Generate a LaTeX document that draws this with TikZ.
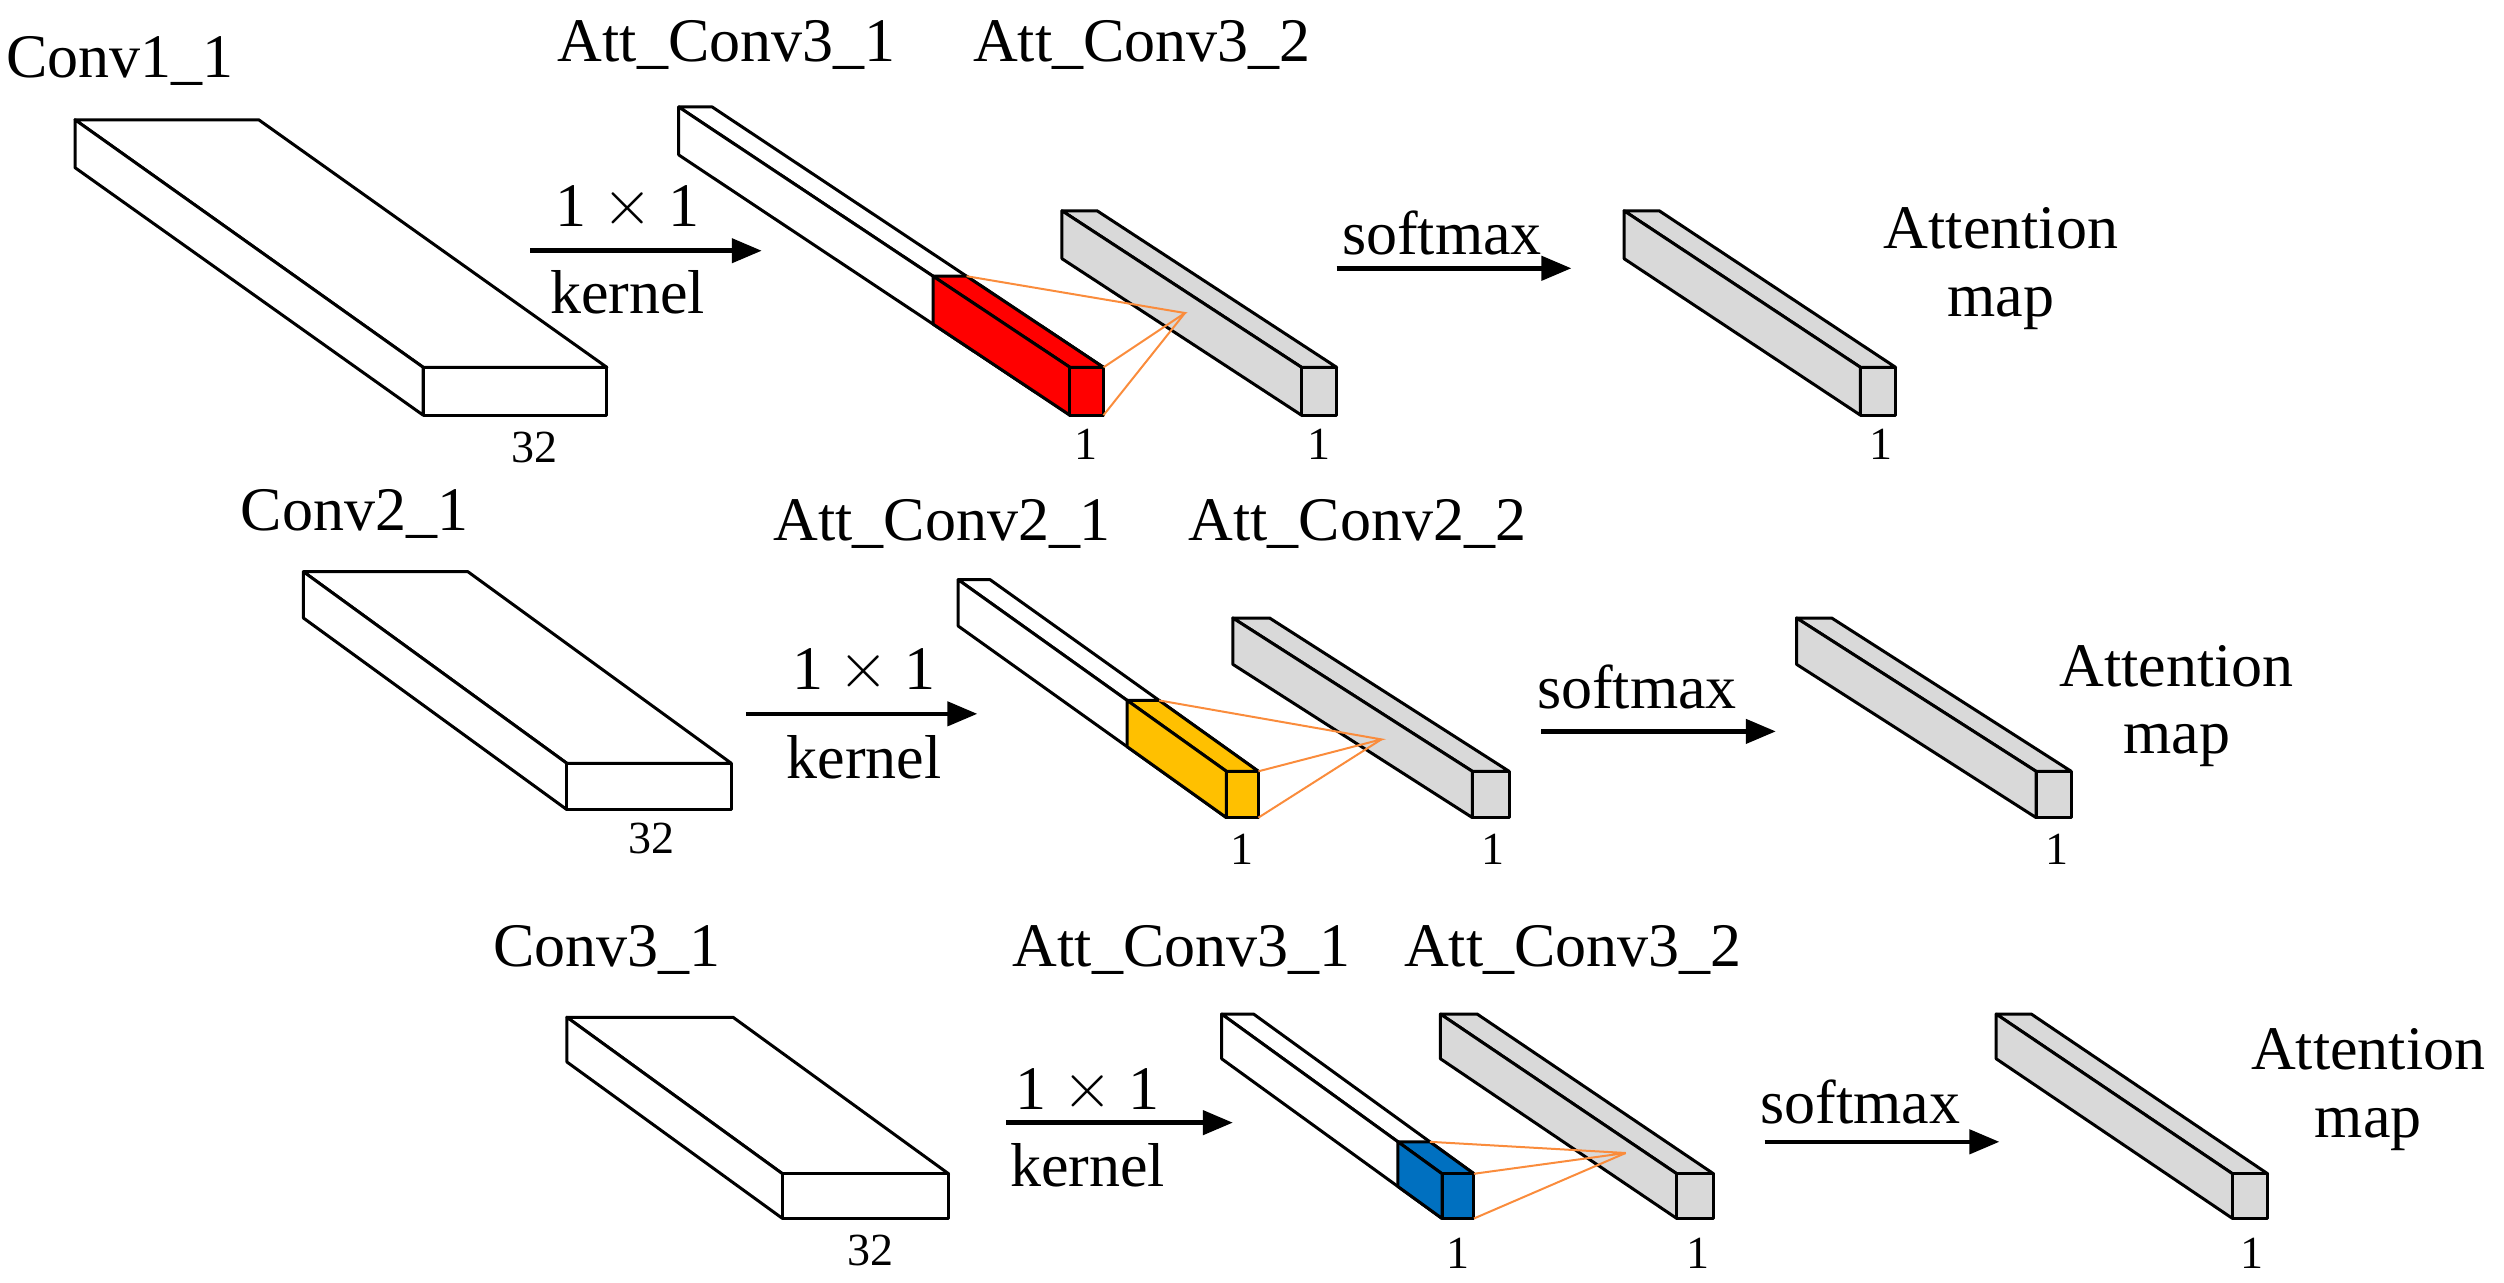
\documentclass[tikz,border=0pt]{standalone}
\usepackage{fontspec}
\setmainfont{Liberation Serif}
\usetikzlibrary{calc,arrows.meta}
\definecolor{hlred}{RGB}{255,0,0}
\definecolor{hlyel}{RGB}{255,192,0}
\definecolor{hlblue}{RGB}{0,112,192}
\definecolor{boxgray}{RGB}{217,217,217}
\definecolor{orng}{RGB}{250,140,60}
\tikzset{
  edge/.style={draw=black,line width=3pt,line join=round},
  lbl/.style={font=\fontsize{62}{70}\selectfont,inner sep=0pt},
  num/.style={font=\fontsize{46}{52}\selectfont,inner sep=0pt},
  arr/.style={line width=4.5pt,-{Triangle[length=30pt,width=24pt]}},
  ray/.style={draw=orng,line width=2pt},
}
\newcommand\tms{\raisebox{0.05ex}{\scalebox{2.6}{$\times$}}}
% bx by w h fx fy fill
\newcommand\cuboid[7]{%
  \coordinate (B) at (#1,#2); \coordinate (F) at (#5,#6);
  \filldraw[edge,fill=#7] (B) -- ++(#3,0) -- ($(F)+(#3,0)$) -- (F) -- cycle;
  \filldraw[edge,fill=#7] (B) -- (F) -- ++(0,#4) -- ($(B)+(0,#4)$) -- cycle;
  \filldraw[edge,fill=#7] (F) rectangle ++(#3,#4);
}
% bx by w h fx fy color t ox oy
\newcommand\hilite[9]{%
  \coordinate (B) at (#1,#2); \coordinate (F) at (#5,#6);
  \coordinate (P) at ($(B)!#8!(F)$);
  \filldraw[edge,fill=#7] (P) -- ++(#3,0) -- ($(F)+(#3,0)$) -- (F) -- cycle;
  \filldraw[edge,fill=#7] (P) -- (F) -- ++(0,#4) -- ($(P)+(0,#4)$) -- cycle;
  \filldraw[edge,fill=#7] (F) rectangle ++(#3,#4);
  \coordinate (O) at (#9);
  \draw[ray] ($(P)+(#3,0)$) -- (O) -- ($(F)+(#3,0)$);
  \draw[ray] (O) -- ($(F)+(#3,#4)$);
}
\begin{document}
\begin{tikzpicture}[x=1.597pt,y=-1.597pt]
\useasboundingbox (0,0) rectangle (1568,803);
% ---------- Row 1
\node[lbl] (t11) at (75,38) {Conv1\_1};
\node[lbl] (t12) at (455,28) {Att\_Conv3\_1};
\node[lbl] (t13) at (715,28) {Att\_Conv3\_2};
\cuboid{47}{75}{115}{30}{265}{230}{white}
\cuboid{425}{67}{21}{30}{670}{230}{white}
\cuboid{665}{132}{22}{30}{815}{230}{boxgray}
\cuboid{1017}{132}{22}{30}{1165}{230}{boxgray}
\hilite{425}{67}{21}{30}{670}{230}{hlred}{0.65}{742,196}
\coordinate (a1s) at (332,157); \coordinate (a1e) at (477,157);
\draw[arr] (a1s) -- (a1e);
\node[lbl] (k1a) at (393,130) {1 \tms{} 1};
\node[lbl] (k1b) at (393,183) {kernel};
\coordinate (s1s) at (837,168); \coordinate (s1e) at (984,168);
\draw[arr] (s1s) -- (s1e);
\node[lbl] (sm1) at (903,146) {softmax};
\node[lbl] (am1) at (1253,143) {Attention};
\node[lbl] (am1b) at (1253,193) {map};
\node[num] (n11) at (335,280) {32};
\node[num] (n12) at (680,278) {1};
\node[num] (n13) at (826,278) {1};
\node[num] (n14) at (1178,278) {1};
% ---------- Row 2
\node[lbl] (t21) at (222,322) {Conv2\_1};
\node[lbl] (t22) at (590,328) {Att\_Conv2\_1};
\node[lbl] (t23) at (850,328) {Att\_Conv2\_2};
\cuboid{190}{358}{103}{29}{355}{478}{white}
\cuboid{600}{363}{20}{29}{768}{483}{white}
\cuboid{772}{387}{23}{29}{922}{483}{boxgray}
\cuboid{1125}{387}{22}{29}{1275}{483}{boxgray}
\hilite{600}{363}{20}{29}{768}{483}{hlyel}{0.63}{865,463}
\coordinate (a2s) at (467,447); \coordinate (a2e) at (612,447);
\draw[arr] (a2s) -- (a2e);
\node[lbl] (k2a) at (541,420) {1 \tms{} 1};
\node[lbl] (k2b) at (541,474) {kernel};
\coordinate (s2s) at (965,458); \coordinate (s2e) at (1112,458);
\draw[arr] (s2s) -- (s2e);
\node[lbl] (sm2) at (1025,430) {softmax};
\node[lbl] (am2) at (1363,417) {Attention};
\node[lbl] (am2b) at (1363,467) {map};
\node[num] (n21) at (408,525) {32};
\node[num] (n22) at (778,532) {1};
\node[num] (n23) at (935,532) {1};
\node[num] (n24) at (1288,532) {1};
% ---------- Row 3
\node[lbl] (t31) at (380,595) {Conv3\_1};
\node[lbl] (t32) at (740,595) {Att\_Conv3\_1};
\node[lbl] (t33) at (985,595) {Att\_Conv3\_2};
\cuboid{355}{637}{104}{28}{490}{735}{white}
\cuboid{765}{635}{20}{28}{903}{735}{white}
\cuboid{902}{635}{23}{28}{1050}{735}{boxgray}
\cuboid{1250}{635}{22}{28}{1398}{735}{boxgray}
\hilite{765}{635}{20}{28}{903}{735}{hlblue}{0.8}{1018,722}
\coordinate (a3s) at (630,703); \coordinate (a3e) at (772,703);
\draw[arr] (a3s) -- (a3e);
\node[lbl] (k3a) at (681,683) {1 \tms{} 1};
\node[lbl] (k3b) at (681,730) {kernel};
\coordinate (s3s) at (1105,715); \coordinate (s3e) at (1252,715);
\draw[arr] (s3s) -- (s3e);
\node[lbl] (sm3) at (1165,690) {softmax};
\node[lbl] (am3) at (1483,657) {Attention};
\node[lbl] (am3b) at (1483,707) {map};
\node[num] (n31) at (545,783) {32};
\node[num] (n32) at (913,785) {1};
\node[num] (n33) at (1063,785) {1};
\node[num] (n34) at (1410,785) {1};
\end{tikzpicture}
\end{document}
